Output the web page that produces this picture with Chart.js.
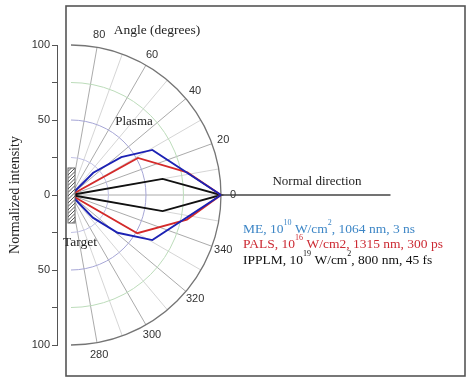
<!DOCTYPE html>
<html>
<head>
<meta charset="utf-8">
<script src="https://cdn.jsdelivr.net/npm/chart.js@4"></script>
<style>
  html, body { margin: 0; padding: 0; background: #fff; }
  #c { display: block; }
</style>
</head>
<body>
<canvas id="c" width="474" height="387"></canvas>
<script>
/* Polar angular distribution — normalized intensity vs. emission angle */

// ---- data: angle (degrees) and normalized intensity per laser system
const ME_ANGLE    = [90, 45, 37, 29, 0, 331, 321, 314, 270];
const ME_R        = [0, 21, 42, 62, 100, 62, 40, 21, 0];
const PALS_ANGLE  = [90, 29, 11, 0, 348, 330, 270];
const PALS_R      = [0, 51, 79, 100, 79, 51, 0];
const IPPLM_ANGLE = [90, 10, 0, 350, 270];
const IPPLM_R     = [0, 62, 100, 62, 0];

// ---- axes / grid labels
const Y_TICKS      = [-100, -50, 0, 50, 100];
const RINGS        = [25, 50, 75, 100];
const ANGLE_LABELS = [0, 20, 40, 60, 80, 280, 300, 320, 340];

const COL = {
  blue: '#1c22b4', red: '#d42a2a', black: '#111111',
  legBlue: '#3d86c6', legRed: '#cc2a33',
  ringA: '#c0c0e4', ringB: '#a6a6d6', ringC: '#bcdcba', ringOut: '#757575',
  spokeMaj: '#a0a0a0', spokeMin: '#d0d0d0', text: '#222', axis: '#555',
};
const SERIF = '"Liberation Serif", "Times New Roman", serif';
const SANS = '"Liberation Sans", Arial, sans-serif';

function toXY(angles, radii) {
  return angles.map(function (d, i) {
    const a = d * Math.PI / 180;
    return { x: radii[i] * Math.cos(a), y: radii[i] * Math.sin(a) };
  });
}

function series(label, angles, radii, color) {
  return {
    label: label, data: toXY(angles, radii), showLine: true,
    borderColor: color, borderWidth: 1.9, pointRadius: 0, tension: 0, fill: false,
  };
}

/* ------------------------------------------------------------ plugins */
function polarPt(chart, r, deg) {
  const a = deg * Math.PI / 180;
  return [chart.scales.x.getPixelForValue(r * Math.cos(a)), chart.scales.y.getPixelForValue(r * Math.sin(a))];
}
function pxPerUnit(chart) {
  return chart.scales.x.getPixelForValue(1) - chart.scales.x.getPixelForValue(0);
}

const polarGrid = {
  id: 'polarGrid',
  beforeDatasetsDraw(chart) {
    const ctx = chart.ctx;
    const c = polarPt(chart, 0, 0);
    const k = pxPerUnit(chart);
    const ringCol = [COL.ringA, COL.ringB, COL.ringC, COL.ringOut];
    ctx.save();
    // spokes every 10 degrees
    for (let d = -80; d <= 80; d += 10) {
      const p = polarPt(chart, 100, d);
      ctx.beginPath();
      ctx.strokeStyle = d % 20 === 0 ? COL.spokeMaj : COL.spokeMin;
      ctx.lineWidth = 0.9;
      ctx.moveTo(c[0], c[1]);
      ctx.lineTo(p[0], p[1]);
      ctx.stroke();
    }
    // concentric half rings
    RINGS.forEach(function (r, i) {
      ctx.beginPath();
      ctx.strokeStyle = ringCol[i];
      ctx.lineWidth = r === 100 ? 1.3 : 1;
      ctx.arc(c[0], c[1], r * k, -Math.PI / 2, Math.PI / 2);
      ctx.stroke();
    });
    ctx.restore();
  },
};

function richText(ctx, parts, x, y, size) {
  parts.forEach(function (p) {
    if (p.sup) {
      ctx.font = Math.round(size * 0.62) + 'px ' + SERIF;
      ctx.fillText(p.t, x, y - size * 0.42);
    } else {
      ctx.font = size + 'px ' + SERIF;
      ctx.fillText(p.t, x, y);
    }
    x += ctx.measureText(p.t).width;
  });
}

const annotations = {
  id: 'annotations',
  afterDraw(chart) {
    const ctx = chart.ctx;
    const c = polarPt(chart, 0, 0);
    ctx.save();

    // frame
    ctx.strokeStyle = COL.axis;
    ctx.lineWidth = 1.6;
    ctx.strokeRect(66, 6, 399, 370);

    // normal direction line
    const n0 = polarPt(chart, 100, 0), n1 = polarPt(chart, 213, 0);
    ctx.beginPath();
    ctx.strokeStyle = '#444';
    ctx.lineWidth = 1.4;
    ctx.moveTo(n0[0], n0[1]);
    ctx.lineTo(n1[0], n1[1]);
    ctx.stroke();

    // angle labels
    ctx.fillStyle = '#333';
    ctx.font = '11px ' + SANS;
    ctx.textAlign = 'center';
    ctx.textBaseline = 'middle';
    ANGLE_LABELS.forEach(function (d) {
      const p = polarPt(chart, 108, d);
      ctx.fillText(String(d), p[0], p[1]);
    });

    // target (hatched plate)
    const tx = c[0] - 3, ty = c[1] - 27, tw = 7, th = 55;
    ctx.fillStyle = '#fff';
    ctx.fillRect(tx, ty, tw, th);
    ctx.save();
    ctx.beginPath();
    ctx.rect(tx, ty, tw, th);
    ctx.clip();
    ctx.strokeStyle = '#555';
    ctx.lineWidth = 1;
    for (let yy = ty - tw; yy < ty + th + tw; yy += 3.5) {
      ctx.beginPath();
      ctx.moveTo(tx, yy + tw);
      ctx.lineTo(tx + tw, yy);
      ctx.stroke();
    }
    ctx.restore();
    ctx.strokeStyle = '#666';
    ctx.lineWidth = 1;
    ctx.strokeRect(tx, ty, tw, th);

    // text labels
    ctx.fillStyle = COL.text;
    ctx.textAlign = 'center';
    ctx.textBaseline = 'middle';
    ctx.font = '13.5px ' + SERIF;
    ctx.fillText('Angle (degrees)', 157, 30);
    ctx.font = '13px ' + SERIF;
    ctx.fillText('Plasma', 134, 122);
    ctx.fillText('Normal direction', 317, 182);
    ctx.font = '13.5px ' + SERIF;
    ctx.fillText('Target', 80, 242);

    // legend
    ctx.textAlign = 'left';
    ctx.textBaseline = 'middle';
    ctx.fillStyle = COL.legBlue;
    richText(ctx, [{ t: 'ME, 10' }, { t: '10', sup: 1 }, { t: ' W/cm' }, { t: '2', sup: 1 }, { t: ', 1064 nm, 3 ns' }], 243, 229, 13.5);
    ctx.fillStyle = COL.legRed;
    richText(ctx, [{ t: 'PALS, 10' }, { t: '16', sup: 1 }, { t: ' W/cm2, 1315 nm, 300 ps' }], 243, 244, 13.5);
    ctx.fillStyle = COL.black;
    richText(ctx, [{ t: 'IPPLM, 10' }, { t: '19', sup: 1 }, { t: ' W/cm' }, { t: '2', sup: 1 }, { t: ', 800 nm, 45 fs' }], 243, 260, 13.5);

    ctx.restore();
  },
};

/* -------------------------------------------------------------- chart */
new Chart(document.getElementById('c'), {
  type: 'scatter',
  data: {
    datasets: [
      series('ME', ME_ANGLE, ME_R, COL.blue),
      series('PALS', PALS_ANGLE, PALS_R, COL.red),
      series('IPPLM', IPPLM_ANGLE, IPPLM_R, COL.black),
    ],
  },
  options: {
    responsive: false,
    animation: false,
    layout: { padding: { top: 45, bottom: 42, left: 0, right: 9 } },
    plugins: { legend: { display: false }, tooltip: { enabled: false } },
    scales: {
      x: { type: 'linear', display: false, min: -9.33, max: 262.67 },
      y: {
        type: 'linear', min: -100, max: 100,
        afterBuildTicks: function (s) { s.ticks = [-100, -75, -50, -25, 0, 25, 50, 75, 100].map(function (v) { return { value: v }; }); },
        afterFit: function (s) { s.width = 57; },
        ticks: {
          color: '#333', padding: 2, font: { family: SANS, size: 11 },
          callback: function (v) { return Y_TICKS.indexOf(v) >= 0 ? String(Math.abs(v)) : ''; },
        },
        grid: { drawOnChartArea: false, drawTicks: true, tickLength: 5, color: COL.axis },
        border: { display: true, color: COL.axis, width: 1 },
        title: { display: true, text: 'Normalized intensity', color: COL.text, font: { family: SERIF, size: 14 }, padding: { top: 7, bottom: 0 } },
      },
    },
  },
  plugins: [polarGrid, annotations],
});
</script>
</body>
</html>
